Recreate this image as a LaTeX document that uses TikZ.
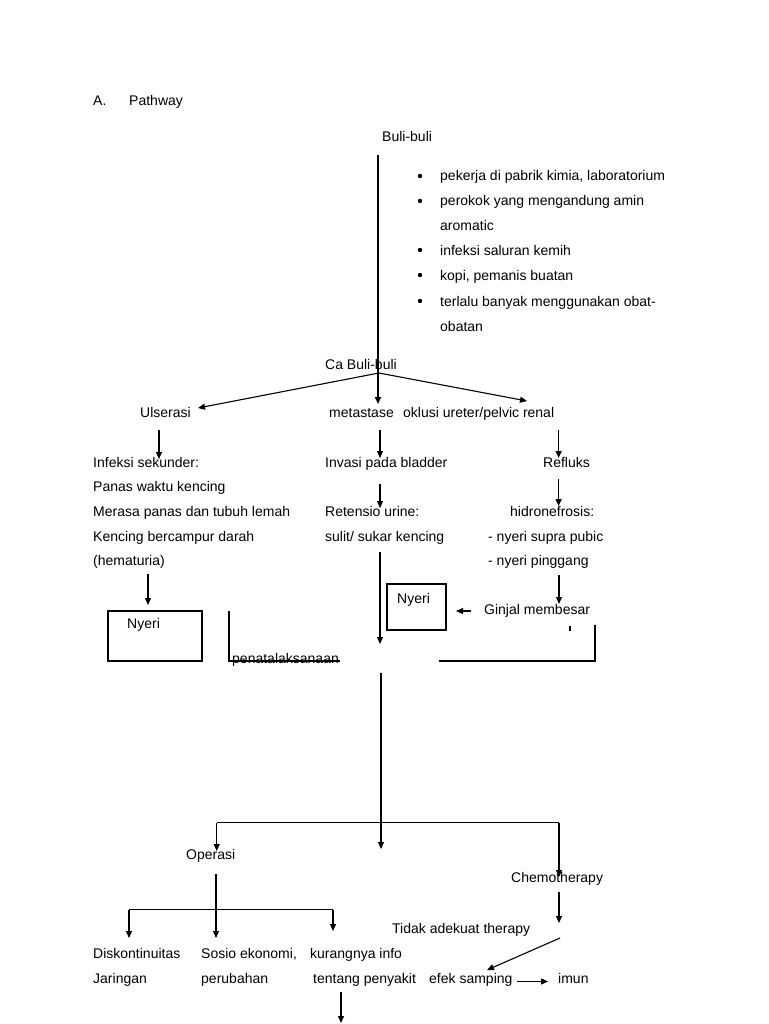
\documentclass[tikz,border=0pt]{standalone}
\usepackage{fontspec}
\setmainfont{Liberation Sans}
\usetikzlibrary{arrows.meta}
\begin{document}
\begin{tikzpicture}[x=1pt,y=-1pt,
  txt/.style={anchor=base west,inner sep=0pt,font=\fontsize{14}{17}\selectfont},
  arr/.style={-{Triangle[length=7pt,width=6pt]},line width=1.1pt},
  ln/.style={line width=1.1pt},
  boxln/.style={line width=1.3pt},
  dot/.style={circle,fill=black,inner sep=0pt,minimum size=4.4pt}]
\useasboundingbox[fill=white] (0,0) rectangle (768,1024);
% texts
\node[txt] (A) at (93,106) {A.};
\node[txt] (pw) at (129,106) {Pathway};
\node[txt] (buli) at (382,142) {Buli-buli};
\node[txt] (b1) at (440,181) {pekerja di pabrik kimia, laboratorium};
\node[txt] (b2) at (440,206) {perokok yang mengandung amin};
\node[txt] (b2b) at (440,230) {aromatic};
\node[txt] (b3) at (440,255) {infeksi saluran kemih};
\node[txt] (b4) at (440,280) {kopi, pemanis buatan};
\node[txt] (b5) at (440,306) {terlalu banyak menggunakan obat-};
\node[txt] (b5b) at (440,331) {obatan};
\node[dot] (d1) at (420,176) {};
\node[dot] (d2) at (420,201) {};
\node[dot] (d3) at (420,250) {};
\node[dot] (d4) at (420,275) {};
\node[dot] (d5) at (420,301) {};
\node[txt] (ca) at (325,369) {Ca Buli-buli};
\node[txt] (ulc) at (140,417) {Ulserasi};
\node[txt] (meta) at (329,417) {metastase};
\node[txt] (okl) at (403,417) {oklusi ureter/pelvic renal};
\node[txt] (inf1) at (93,467) {Infeksi sekunder:};
\node[txt] (inf2) at (93,491) {Panas waktu kencing};
\node[txt] (inf3) at (93,516) {Merasa panas dan tubuh lemah};
\node[txt] (inf4) at (93,541) {Kencing bercampur darah};
\node[txt] (inf5) at (93,565) {(hematuria)};
\node[txt] (inv) at (325,467) {Invasi pada bladder};
\node[txt] (ret1) at (325,516) {Retensio urine:};
\node[txt] (ret2) at (325,541) {sulit/ sukar kencing};
\node[txt] (ref) at (543,467) {Refluks};
\node[txt] (hid1) at (510,516) {hidronefrosis:};
\node[txt] (hid2) at (488,541) {- nyeri supra pubic};
\node[txt] (hid3) at (488,565) {- nyeri pinggang};
\node[txt] (ny2) at (397,603) {Nyeri};
\node[txt] (gin) at (484,614) {Ginjal membesar};
\node[txt] (ny1) at (127,628) {Nyeri};
\node[txt] (pen) at (232,663) {penatalaksanaan};
\node[txt] (op) at (186,859) {Operasi};
\node[txt] (chem) at (511,882) {Chemotherapy};
\node[txt] (tid) at (392,933) {Tidak adekuat therapy};
\node[txt] (dis1) at (93,958) {Diskontinuitas};
\node[txt] (dis2) at (93,983) {Jaringan};
\node[txt] (sos1) at (201,958) {Sosio ekonomi,};
\node[txt] (sos2) at (201,983) {perubahan};
\node[txt] (kur1) at (310,958) {kurangnya info};
\node[txt] (kur2) at (313,983) {tentang penyakit};
\node[txt] (efek) at (429,983) {efek samping};
\node[txt] (imun) at (558,983) {imun};
% coordinates
\coordinate (bTop) at (378,155);
\coordinate (bEnd) at (378,404);
\coordinate (jn) at (379,373);
\coordinate (ulT) at (198,408);
\coordinate (okT) at (527,401);
\coordinate (a1s) at (159,430); \coordinate (a1e) at (159,459);
\coordinate (a2s) at (380,430); \coordinate (a2e) at (380,458);
\coordinate (a3s) at (558.6,430); \coordinate (a3e) at (558.6,458);
\coordinate (a4s) at (380,484); \coordinate (a4e) at (380,508);
\coordinate (a5s) at (558.6,479); \coordinate (a5e) at (558.6,506);
\coordinate (a6s) at (148,574); \coordinate (a6e) at (148,605);
\coordinate (a7s) at (380,552); \coordinate (a7e) at (380,644);
\coordinate (a8s) at (559,575); \coordinate (a8e) at (559,604);
\coordinate (a9s) at (471,611); \coordinate (a9e) at (456,611);
\coordinate (bx1a) at (108,611); \coordinate (bx1b) at (202,661);
\coordinate (bx2a) at (387,584); \coordinate (bx2b) at (446,630);
\coordinate (pl1) at (229,611); \coordinate (pl2) at (229,661); \coordinate (pl3) at (340,661);
\coordinate (tk1) at (570,626); \coordinate (tk2) at (570,631);
\coordinate (rl1) at (595,625); \coordinate (rl2) at (595,661); \coordinate (rl3) at (439,661);
\coordinate (md1) at (381,673); \coordinate (md2) at (381,849);
\coordinate (h1) at (216.7,822.7); \coordinate (h2) at (559,822.7);
\coordinate (h1e) at (216.7,851); \coordinate (h2e) at (559,877);
\coordinate (o1) at (216,874); \coordinate (o2) at (216,938);
\coordinate (g1) at (129,909.5); \coordinate (g2) at (333,909.5);
\coordinate (g1e) at (129,938); \coordinate (g2e) at (333,931);
\coordinate (c1) at (559,892); \coordinate (c2) at (559,923);
\coordinate (dg1) at (560,938); \coordinate (dg2) at (487,970);
\coordinate (e1) at (517,981.5); \coordinate (e2) at (548,981.5);
\coordinate (k1) at (341,992); \coordinate (k2) at (341,1023);
% connectors
\draw[arr,line width=1.8pt] (bTop) -- (bEnd);
\draw[arr] (jn) -- (ulT);
\draw[arr] (jn) -- (okT);
\draw[arr] (a1s) -- (a1e);
\draw[arr] (a2s) -- (a2e);
\draw[arr] (a3s) -- (a3e);
\draw[arr] (a4s) -- (a4e);
\draw[arr] (a5s) -- (a5e);
\draw[arr] (a6s) -- (a6e);
\draw[arr] (a7s) -- (a7e);
\draw[arr] (a8s) -- (a8e);
\draw[arr] (a9s) -- (a9e);
\draw[boxln] (bx1a) rectangle (bx1b);
\draw[boxln] (bx2a) rectangle (bx2b);
\draw[ln] (pl1) -- (pl2) -- (pl3);
\draw[ln] (tk1) -- (tk2);
\draw[ln] (rl1) -- (rl2) -- (rl3);
\draw[arr] (md1) -- (md2);
\draw[ln] (h1) -- (h2);
\draw[arr] (h1) -- (h1e);
\draw[arr] (h2) -- (h2e);
\draw[arr] (o1) -- (o2);
\draw[ln] (g1) -- (g2);
\draw[arr] (g1) -- (g1e);
\draw[arr] (g2) -- (g2e);
\draw[arr] (c1) -- (c2);
\draw[arr] (dg1) -- (dg2);
\draw[arr] (e1) -- (e2);
\draw[arr] (k1) -- (k2);
\end{tikzpicture}
\end{document}
